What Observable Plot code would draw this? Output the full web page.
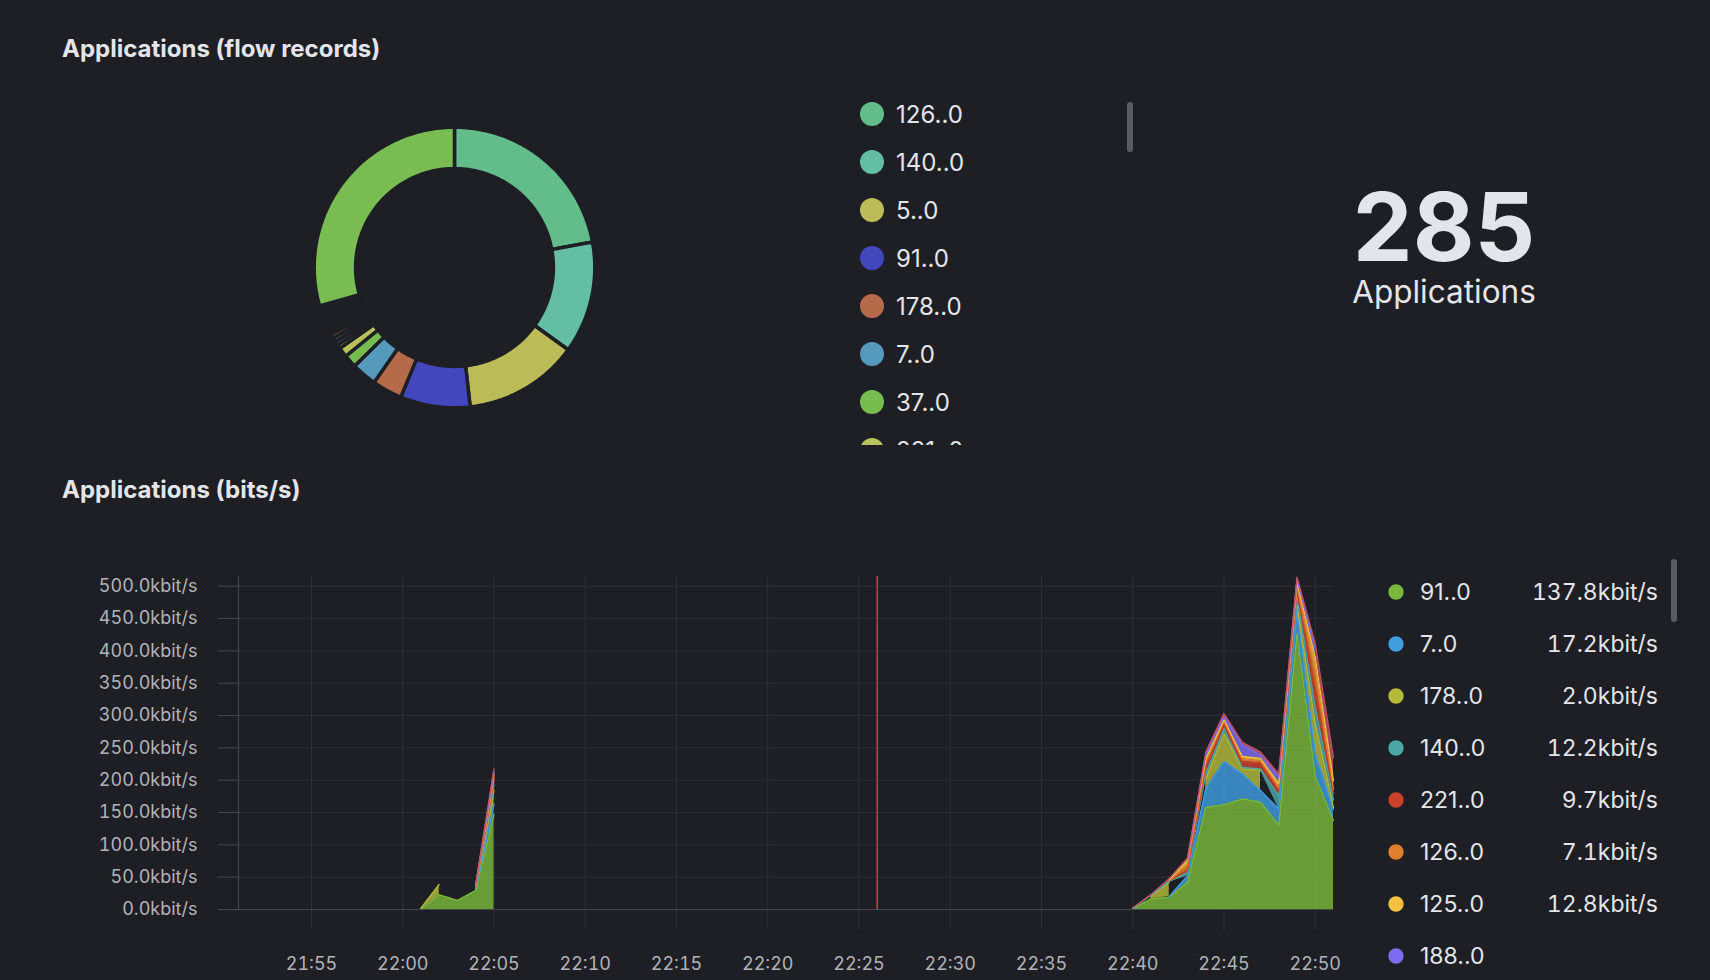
<!DOCTYPE html>
<html><head><meta charset="utf-8">
<script src="https://cdn.jsdelivr.net/npm/d3@7"></script>
<script src="https://cdn.jsdelivr.net/npm/@observablehq/plot@0.6"></script>
<style>
html,body{margin:0;padding:0;background:#1e1f24;width:1710px;height:980px;overflow:hidden;font-family:Inter,"Open Sans",sans-serif}
.abs{position:absolute}
.tab{font-variant-numeric:tabular-nums}
</style></head><body>
<div id="pie" class="abs" style="left:304px;top:117px;width:300px;height:300px"></div>
<div id="area" class="abs" style="left:0;top:540px;width:1710px;height:440px"></div>
<svg id="overlay" class="abs" style="left:0;top:0;pointer-events:none" width="1710" height="980"></svg>
<script>
// ---------- Data: Applications (flow records) ----------
const pieLabels = ["126..0","140..0","5..0","91..0","178..0","7..0","37..0","221..0"];
const pieShares = [22.1, 12.9, 13.25, 8.05, 3.47, 2.89, 1.5, 1.11];
const pieColors = ["#62bd8b","#63bea4","#bbbc58","#4347be","#b56a4a","#5599bd","#76bc4f","#b8c25a"];
const pieTailShares = [0.47,0.47,0.47,0.47,0.29,0.29,0.29,0.29,0.29,0.29,0.29,0.29,0.29,0.29,0.29,0.29];
const pieTailColors = ["#7fc24a","#6a5ed0","#4b86c6","#a06c48","#5f8fc0","#c0a050","#6fb070","#9060b0","#50a0a0","#b07050","#7080c0","#a0b050","#60b090","#c06080","#8070b0","#70a060"];
const pieOtherShare = 29.44;
const pieOtherColor = "#79bd52";
const appCount = 285;
const appCountLabel = "Applications";

// ---------- Data: Applications (bits/s), kbit/s per minute ----------
const times = ["22:01","22:02","22:03","22:04","22:05","22:06","22:40","22:41","22:42","22:43","22:44","22:45","22:46","22:47","22:48","22:49","22:50","22:51"];
const seriesNames  = ["91..0","7..0","178..0","140..0","221..0","126..0","125..0","188..0","Other"];
const seriesColors = ["#7ab83c","#3f9de0","#b4b93b","#4aa8a8","#cc4129","#e07e2e","#f5c240","#7c6cf4","#c4506a"];
const s91    = [0.6, 22.7, 14, 29.4, 147, null, 1, 16.5, 19, 42, 158, 162, 171, 166, 130, 427, 205, 137.8];
const s7     = [null, null, null, 1, 16.5, null, 0.5, null, 1, 10, 29, 67, 39, 18, 25.7, 35, 36, 17.2];
const s178   = [1.5, 16, null, 2, 21, null, null, 4, 22, null, 15, 43, 7.6, 31, null, 8, 47, 2.0];
const s140   = [null, null, null, 1.5, 8, null, 0.5, 1.5, 2, 5, 8, 8, 2, 2.6, 20, 12, 25, 12.2];
const s221   = [null, null, null, 1, 6, null, null, null, 0.5, 3, 10, 7.5, 9, 9, 8, 10, 30, 9.7];
const s126   = [null, null, null, 1, 5, null, null, null, 0.5, 8, 7, 4, 4, 3, 5, 8, 25, 7.1];
const s125   = [null, null, null, 1.5, 6, null, null, null, 0.5, 8, 6, 2, 4, 4, 6, 6, 22, 12.8];
const s188   = [null, null, null, 0.5, 3, null, null, null, null, 1, 6, 4.5, 18, 5, 10, 4, 13, null];
const sOther = [null, null, null, 1, 5, null, 0.3, 1, 2, 2.4, 4, 5, 4, 4.8, 5, 4, 8, 36];
const legendCount = 8;

const xDomain = ["21:51","22:51"];
const xTicks = ["21:55","22:00","22:05","22:10","22:15","22:20","22:25","22:30","22:35","22:40","22:45","22:50"];
const yTicks = [0,50,100,150,200,250,300,350,400,450,500];
const yMax = 515;
const markerTime = "22:26";

// ---------- helpers ----------
const BG = "#1e1f24";
const parseT = s => { const [h,m] = s.split(":").map(Number); return new Date(2024,0,1,h,m); };
const fmtK = v => v.toFixed(1) + "kbit/s";

// ---------- Donut ----------
const pieData = [
  ...pieLabels.map((l,i)=>({name:l, v:pieShares[i], color:pieColors[i]})),
  ...pieTailShares.map((v,i)=>({name:"tail"+i, v, color:pieTailColors[i]})),
  {name:"Other", v:pieOtherShare, color:pieOtherColor}
];
const R = 140.3, r = 98.9;
const arcs = d3.pie().sort(null).value(d=>d.v)(pieData);
const piePts = [];
arcs.forEach(a => {
  const n = Math.max(2, Math.ceil((a.endAngle - a.startAngle) / 0.01));
  for (let i = 0; i <= n; i++) {
    const t = a.startAngle + (a.endAngle - a.startAngle) * i / n;
    piePts.push({name:a.data.name, color:a.data.color, x:R*Math.sin(t), y:R*Math.cos(t)});
  }
  for (let i = n; i >= 0; i--) {
    const t = a.startAngle + (a.endAngle - a.startAngle) * i / n;
    piePts.push({name:a.data.name, color:a.data.color, x:r*Math.sin(t), y:r*Math.cos(t)});
  }
});
document.getElementById("pie").append(Plot.plot({
  width:300, height:300, margin:0,
  style:{background:"transparent"},
  x:{domain:[-150,150], axis:null},
  y:{domain:[-150,150], axis:null},
  color:{type:"identity"},
  marks:[
    Plot.line(piePts, {x:"x", y:"y", z:"name", fill:"color", stroke:BG, strokeWidth:3.5, curve:"linear-closed"})
  ]
}));

// ---------- Stacked area ----------
const series = [s91, s7, s178, s140, s221, s126, s125, s188, sOther];
const rows = [];
times.forEach((t, i) => {
  let base = 0;
  series.forEach((vals, k) => {
    const v = vals[i];
    const ok = v != null;
    rows.push({t:parseT(t), name:seriesNames[k], color:seriesColors[k], y1: ok ? base : NaN, y2: ok ? base + v : NaN});
    if (ok) base += v;
  });
});
const xTickDates = xTicks.map(parseT);
document.getElementById("area").append(Plot.plot({
  width:1710, height:440,
  marginTop:36, marginBottom:71, marginLeft:238, marginRight:377,
  style:{background:"transparent", fontFamily:"Inter, sans-serif", fontSize:"18px"},
  x:{type:"time", domain:xDomain.map(parseT)},
  y:{domain:[0,yMax]},
  color:{type:"identity"},
  marks:[
    Plot.gridY(yTicks, {stroke:"#2f3035", strokeOpacity:1}),
    Plot.gridX(xTickDates, {stroke:"#2f3035", strokeOpacity:1}),
    Plot.axisX(xTickDates, {tickSize:21, tickPadding:27, stroke:"#2f3035", fill:"#b2b3b9", fontSize:18, label:null, tickFormat:d3.timeFormat("%H:%M")}),
    Plot.axisY(yTicks, {tickSize:20, tickPadding:21, stroke:"#47484e", fill:"#b2b3b9", fontSize:18, label:null, tickFormat:fmtK}),
    Plot.area(rows, {x1:"t", y1:"y1", y2:"y2", z:"name", fill:"color", fillOpacity:0.82}),
    Plot.line(rows, {x:"t", y:"y2", z:"name", stroke:"color", strokeWidth:1.3}),
    Plot.ruleY([0], {stroke:"#47484e"}),
    Plot.ruleX([parseT(xDomain[0])], {stroke:"#47484e"}),
    Plot.ruleX([parseT(markerTime)], {stroke:"#e0362c", strokeWidth:1.5})
  ]
}));

// ---------- Overlay texts & legends ----------
const svg = d3.select("#overlay");
const TXT = "#e3e5eb";
svg.append("text").attr("x",62).attr("y",57).attr("fill",TXT).attr("font-size",24).attr("font-weight",700).text("Applications (flow records)");
svg.append("text").attr("x",62).attr("y",498).attr("fill",TXT).attr("font-size",24).attr("font-weight",700).text("Applications (bits/s)");

// pie legend (clipped)
svg.append("clipPath").attr("id","pl").append("rect").attr("x",840).attr("y",88).attr("width",300).attr("height",357);
const pl = svg.append("g").attr("clip-path","url(#pl)");
pieLabels.forEach((l,i)=>{
  const y = 114 + 48*i;
  pl.append("circle").attr("cx",872).attr("cy",y).attr("r",12).attr("fill",pieColors[i]);
  pl.append("text").attr("x",896).attr("y",y+8.7).attr("fill",TXT).attr("font-size",24).text(l);
});
svg.append("rect").attr("x",1127).attr("y",102).attr("width",6).attr("height",50).attr("rx",3).attr("fill","#5b5c62");

// stat
svg.append("text").attr("x",1444).attr("y",261).attr("text-anchor","middle").attr("fill",TXT).attr("font-size",95).attr("font-weight",700).text(String(appCount));
svg.append("text").attr("x",1444).attr("y",303).attr("text-anchor","middle").attr("fill",TXT).attr("font-size",31.5).text(appCountLabel);

// area legend
for (let k = 0; k < legendCount; k++) {
  const y = 592 + 52*k;
  const last = series[k][series[k].length-1];
  svg.append("circle").attr("cx",1396).attr("cy",y).attr("r",7.7).attr("fill",seriesColors[k]);
  svg.append("text").attr("x",1420).attr("y",y+8.4).attr("fill",TXT).attr("font-size",23).text(seriesNames[k]);
  if (last != null) svg.append("text").attr("class","tab").attr("x",1658).attr("y",y+8.4).attr("text-anchor","end").attr("fill",TXT).attr("font-size",23).text(fmtK(last));
}
svg.append("rect").attr("x",1671).attr("y",559).attr("width",6).attr("height",63).attr("rx",3).attr("fill","#5b5c62");
</script>
</body></html>
